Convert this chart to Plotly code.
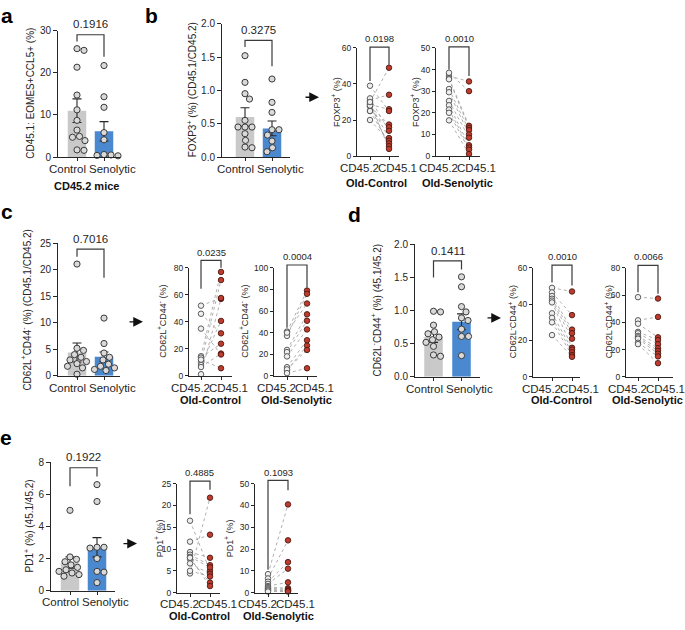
import numpy as np
import plotly.graph_objects as go

W, H = 685, 630
FONT = "Liberation Sans, Arial, Helvetica, sans-serif"
INK = "#262626"
GRAY_BAR = "#c9c9c9"
BLUE_BAR = "#4a88d0"
DOT_FILL = "#d9d9d9"
OPEN_FILL = "#efefef"
RED_FILL = "#bf3b2c"

# ---------------- data ----------------
bar_groups = ["Control", "Senolytic"]
pair_groups = ["CD45.2", "CD45.1"]

# panel a
a_control = [25.3, 25.7, 21.3, 14.7, 11.2, 8.7, 6.4, 4.9, 4.7, 3.9, 1.7, 1.6]
a_senolytic = [21.7, 14.3, 11.8, 5.8, 4.1, 0.6, 0.4, 0.3, 0.5]
a_mean = [11.0, 6.1]
a_sem = [2.8, 2.3]
a_p = "0.1916"

# panel b
b_control = [1.52, 1.12, 0.95, 0.87, 0.55, 0.45, 0.45, 0.45, 0.35, 0.25, 0.14, 0.15]
b_senolytic = [1.17, 0.82, 0.67, 0.41, 0.41, 0.33, 0.24, 0.14, 0.08]
b_mean = [0.60, 0.43]
b_sem = [0.14, 0.11]
b_p = "0.3275"
b_oc_cd452 = [30, 31, 28.5, 39, 27.5, 25, 32, 29, 20, 25, 28, 30]
b_oc_cd451 = [49, 34, 26, 25, 17.5, 16, 14, 10, 8.5, 7, 5.5, 4]
b_oc_p = "0.0198"
b_os_cd452 = [37, 38.5, 36, 35.5, 31, 29.5, 25.5, 23.5, 21.5, 20, 16.5]
b_os_cd451 = [34.5, 30, 14, 13, 12, 10, 8.5, 5, 4, 3, 1]
b_os_p = "0.0010"

# panel c
c_control = [21.1, 5.2, 4.8, 4.0, 3.5, 3.0, 2.7, 2.3, 1.8, 1.5, 0.3]
c_senolytic = [10.9, 6.1, 4.3, 3.5, 3.0, 2.2, 1.8, 1.5, 1.2, 1.0]
c_mean = [4.4, 3.6]
c_sem = [1.8, 0.9]
c_p = "0.7016"
c_oc_cd452 = [1.2, 14.5, 10, 52, 8, 46, 13.5, 6.5, 35, 12]
c_oc_cd451 = [57, 77, 71, 57.7, 40.7, 31.5, 23.8, 16.5, 15.8, 5.6]
c_oc_p = "0.0235"
c_os_cd452 = [41, 37, 40, 24, 22, 18, 8, 5, 6, 2.5]
c_os_cd451 = [79, 76, 67, 57, 51, 43, 33, 28, 24, 7]
c_os_p = "0.0004"

# panel d
d_control = [0.98, 0.99, 0.78, 0.68, 0.65, 0.60, 0.56, 0.52, 0.46, 0.31, 0.33]
d_senolytic = [1.51, 1.36, 1.06, 0.98, 0.89, 0.85, 0.72, 0.61, 0.61, 0.32]
d_mean = [0.60, 0.83]
d_sem = [0.08, 0.12]
d_p = "0.1411"
d_oc_cd452 = [49, 46.5, 44.5, 43, 42, 41, 35, 32.5, 30, 23]
d_oc_cd451 = [47, 34, 26, 24, 21, 16, 15, 13.5, 12, 11]
d_oc_p = "0.0010"
d_os_cd452 = [58.5, 41.5, 39, 33, 32, 30, 29, 28, 25, 24]
d_os_cd451 = [57.5, 44, 29, 27, 24, 21, 19, 17, 15, 10]
d_os_p = "0.0066"

# panel e
e_control = [5.0, 2.1, 1.95, 1.8, 1.6, 1.45, 1.3, 1.2, 1.1, 1.0, 0.9]
e_senolytic = [6.6, 5.55, 2.7, 2.65, 2.7, 2.0, 1.2, 1.15, 0.5]
e_mean = [1.75, 2.7]
e_sem = [0.35, 0.6]
e_p = "0.1922"
e_oc_cd452 = [4.4, 16.5, 11.7, 9.3, 8.7, 8.2, 7.7, 6.7, 5, 8]
e_oc_cd451 = [21.8, 5, 13.3, 8, 6.3, 5.8, 2.3, 4.3, 3.7, 1.5]
e_oc_p = "0.4885"
e_os_cd452 = [8.5, 6.5, 5, 4, 3, 2.5, 2, 1.5, 1, 0.5]
e_os_cd451 = [40.5, 24, 14, 11, 4.7, 2, 1.5, 1, 0.8, 0.5]
e_os_p = "0.1093"

# ---------------- layout specs (pixel geometry) ----------------
panels = [
    dict(kind="bar", data=(a_control, a_senolytic, a_mean, a_sem, a_p), L=58, R=120, c0=77, c1=104, top=25, bot=154,
         ymax=30, dt=10, fmt="", br=(29.0, 27.4, 23.8), title="CD45.1: EOMES+CCL5+ (%)", tx=31),
    dict(kind="bar", data=(b_control, b_senolytic, b_mean, b_sem, b_p), L=222, R=290, c0=245, c1=272, top=18, bot=154,
         ymax=2.0, dt=0.5, fmt=".1f", br=(1.75, 1.65, 1.36), title="FOXP3<sup>+</sup> (%) (CD45.1/CD45.2)", tx=192),
    dict(kind="pair", data=(b_oc_cd452, b_oc_cd451, b_oc_p), L=357, R=399, c0=370, c1=389, top=42.7, bot=153,
         ymax=60, dt=20, fmt="", br=(60.4, 41.6, 50.6), title="FOXP3<sup>+</sup> (%)", tx=337),
    dict(kind="pair", data=(b_os_cd452, b_os_cd451, b_os_p), L=436, R=480, c0=449, c1=469, top=42.7, bot=153,
         ymax=50, dt=10, fmt="", br=(50.5, 40, 37), title="FOXP3<sup>+</sup> (%)", tx=416),
    dict(kind="bar", data=(c_control, c_senolytic, c_mean, c_sem, c_p), L=58, R=120, c0=77, c1=104, top=242, bot=377,
         ymax=25, dt=5, fmt="", br=(23.9, 22.5, 18.5), title="CD62L<sup>+</sup>CD44<sup>-</sup> (%) (CD45.1/CD45.2)", tx=26),
    dict(kind="pair", data=(c_oc_cd452, c_oc_cd451, c_oc_p), L=189, R=232, c0=201, c1=221, top=267, bot=377,
         ymax=80, dt=20, fmt="", br=(85.6, 64.5, 80.2), title="CD62L<sup>+</sup>CD44<sup>-</sup> (%)", tx=163),
    dict(kind="pair", data=(c_os_cd452, c_os_cd451, c_os_p), L=274, R=317, c0=287, c1=307, top=267, bot=377,
         ymax=100, dt=20, fmt="", br=(102.7, 44.5, 81.8), title="CD62L<sup>+</sup>CD44<sup>-</sup> (%)", tx=245),
    dict(kind="bar", data=(d_control, d_senolytic, d_mean, d_sem, d_p), L=415, R=480, c0=433.5, c1=461.5, top=243, bot=378,
         ymax=2.0, dt=0.5, fmt=".1f", br=(1.75, 1.5, 1.62), title="CD62L<sup>-</sup>CD44<sup>+</sup> (%) (45.1/45.2)", tx=376),
    dict(kind="pair", data=(d_oc_cd452, d_oc_cd451, d_oc_p), L=533, R=580, c0=552, c1=572, top=267, bot=378,
         ymax=60, dt=20, fmt="", br=(61.5, 52, 50.3), title="CD62L<sup>-</sup>CD44<sup>+</sup> (%)", tx=514),
    dict(kind="pair", data=(d_os_cd452, d_os_cd451, d_os_p), L=626, R=673, c0=638, c1=658, top=267, bot=378,
         ymax=80, dt=20, fmt="", br=(81.9, 62.2, 61), title="CD62L<sup>-</sup>CD44<sup>+</sup> (%)", tx=610),
    dict(kind="bar", data=(e_control, e_senolytic, e_mean, e_sem, e_p), L=51, R=115, c0=70, c1=97, top=465, bot=596,
         ymax=8, dt=2, fmt="", br=(7.65, 6.5, 7.1), title="PD1<sup>+</sup> (%) (45.1/45.2)", tx=29),
    dict(kind="pair", data=(e_oc_cd452, e_oc_cd451, e_oc_p), L=177, R=220, c0=190, c1=210, top=487, bot=598,
         ymax=25, dt=5, fmt="", br=(25.6, 18, 23.6), title="PD1<sup>+</sup> (%)", tx=160),
    dict(kind="pair", data=(e_os_cd452, e_os_cd451, e_os_p), L=255, R=298, c0=268, c1=288, top=487, bot=598,
         ymax=50, dt=10, fmt="", br=(51.5, 10.5, 47), title="PD1<sup>+</sup> (%)", tx=230),
]

group_labels = [("CD45.2 mice", 86, 184), ("Old-Control", 376, 180), ("Old-Senolytic", 457, 180),
                ("Old-Control", 210, 402), ("Old-Senolytic", 296, 402),
                ("Old-Control", 561, 402), ("Old-Senolytic", 647, 402),
                ("Old-Control", 199, 622), ("Old-Senolytic", 278, 622)]
panel_letters = [("a", 7, 10), ("b", 151, 10), ("c", 7, 210), ("d", 354, 213), ("e", 6, 440)]
arrows = [(319, 93), (143, 322), (501, 318), (137, 548)]


def swarm(vals, ppy, ppx, d=6.8):
    vals = np.asarray(vals, float)
    order = np.argsort(-vals, kind="stable")
    cands = sorted(np.arange(-16, 16.01, 0.5), key=lambda v: (abs(v), v < 0))
    placed, offs = [], np.zeros(len(vals))
    for i in order:
        yp = vals[i] * ppy
        chosen = 0.0
        for c in cands:
            if all((c - px) ** 2 + (yp - py) ** 2 >= d * d for px, py in placed):
                chosen = c
                break
        placed.append((chosen, yp))
        offs[i] = chosen / ppx
    return offs


fig = go.Figure()
layout = dict(width=W, height=H, margin=dict(l=0, r=0, t=0, b=0), paper_bgcolor="white",
              plot_bgcolor="white", showlegend=False, font=dict(family=FONT, color=INK))
annotations, shapes = [], []


def P(xpx, ypx):
    return xpx / W, 1 - ypx / H


for i, sp in enumerate(panels, start=1):
    L, R, c0, c1, top, bot, ymax = sp["L"], sp["R"], sp["c0"], sp["c1"], sp["top"], sp["bot"], sp["ymax"]
    ppx = c1 - c0
    ppy = (bot - top) / ymax
    xk = "xaxis" if i == 1 else f"xaxis{i}"
    yk = "yaxis" if i == 1 else f"yaxis{i}"
    xid = "x" if i == 1 else f"x{i}"
    yid = "y" if i == 1 else f"y{i}"
    isbar = sp["kind"] == "bar"
    tvals = list(np.round(np.arange(0, ymax + 1e-9, sp["dt"]), 3))
    layout[xk] = dict(domain=[L / W, R / W], range=[(L - c0) / ppx, (R - c0) / ppx], anchor=yid,
                      showline=True, linecolor=INK, linewidth=1, ticks="outside", ticklen=3, tickwidth=1,
                      tickcolor=INK, tickvals=[0, 1], showticklabels=False, showgrid=False, zeroline=False,
                      fixedrange=True)
    layout[yk] = dict(domain=[1 - bot / H, 1 - top / H], range=[0, ymax], anchor=xid,
                      showline=True, linecolor=INK, linewidth=1, ticks="outside", ticklen=4 if isbar else 3,
                      tickwidth=1, tickcolor=INK, tickvals=tvals, tickformat=sp["fmt"], showgrid=False,
                      zeroline=False, tickfont=dict(size=10 if isbar else 8.5, color=INK, family=FONT),
                      fixedrange=True)

    def ypx(v):
        return bot - v * ppy

    def xpx(v):
        return c0 + v * ppx

    if isbar:
        ctrl, seno, mean, sem, p = sp["data"]
        fig.add_trace(go.Bar(x=[0, 1], y=mean, width=18.5 / ppx, xaxis=xid, yaxis=yid,
                             marker=dict(color=[GRAY_BAR, BLUE_BAR], line=dict(width=0)),
                             error_y=dict(type="data", array=sem, visible=True, color=INK, thickness=1.1, width=4.5),
                             hoverinfo="skip"))
        for g, vals in enumerate([ctrl, seno]):
            offs = swarm(vals, ppy, ppx)
            fig.add_trace(go.Scatter(x=g + offs, y=vals, mode="markers", xaxis=xid, yaxis=yid, cliponaxis=False,
                                     marker=dict(size=6.2, color=DOT_FILL, line=dict(color="#3a3a3a", width=1)),
                                     hoverinfo="skip"))
        labels = bar_groups
        split = (c0 + c1) / 2 - 3.5
        gap = 0.5
        pfs, tfs, poff = 11.5, 10, 10.5
    else:
        v2, v1, p = sp["data"]
        lx, ly = [], []
        for a, b in zip(v2, v1):
            lx += [0, 1, None]
            ly += [a, b, None]
        fig.add_trace(go.Scatter(x=lx, y=ly, mode="lines", xaxis=xid, yaxis=yid,
                                 line=dict(color="#9a9a9a", width=0.8, dash="dot"), hoverinfo="skip"))
        fig.add_trace(go.Scatter(x=[0] * len(v2), y=v2, mode="markers", xaxis=xid, yaxis=yid, cliponaxis=False,
                                 marker=dict(size=5.5, color=OPEN_FILL, line=dict(color="#4d4d4d", width=0.9)),
                                 hoverinfo="skip"))
        fig.add_trace(go.Scatter(x=[1] * len(v1), y=v1, mode="markers", xaxis=xid, yaxis=yid, cliponaxis=False,
                                 marker=dict(size=5.5, color=RED_FILL, line=dict(color="#4a1a14", width=0.9)),
                                 hoverinfo="skip"))
        labels = pair_groups
        split = (c0 + c1) / 2 - 1.5
        gap = -1.5
        pfs, tfs, poff = 9.5, 9, 8.5

    # significance bracket
    btop, bl, brt = sp["br"]
    pts = [P(xpx(0), ypx(bl)), P(xpx(0), ypx(btop)), P(xpx(1), ypx(btop)), P(xpx(1), ypx(brt))]
    path = "M " + " L ".join(f"{x:.5f},{y:.5f}" for x, y in pts)
    shapes.append(dict(type="path", path=path, xref="paper", yref="paper", line=dict(color="#3a3a3a", width=1.2)))
    px_, py_ = P(xpx(0.5), ypx(btop) - poff)
    annotations.append(dict(x=px_, y=py_, xref="paper", yref="paper", text=p, showarrow=False,
                            xanchor="center", yanchor="middle", font=dict(size=pfs, color=INK, family=FONT)))
    # category labels
    ylab = 1 - (bot + 12) / H
    annotations.append(dict(x=(split - gap) / W, y=ylab, xref="paper", yref="paper", text=labels[0],
                            showarrow=False, xanchor="right", yanchor="middle", borderpad=0,
                            font=dict(size=11.5, color=INK, family=FONT)))
    annotations.append(dict(x=(split + gap) / W, y=ylab, xref="paper", yref="paper", text=labels[1],
                            showarrow=False, xanchor="left", yanchor="middle", borderpad=0,
                            font=dict(size=11.5, color=INK, family=FONT)))
    # y title
    tx, ty = P(sp["tx"] - (0 if isbar else 1), (top + bot) / 2)
    annotations.append(dict(x=tx, y=ty, xref="paper", yref="paper", text=sp["title"], showarrow=False,
                            textangle=-90, xanchor="center", yanchor="middle",
                            font=dict(size=tfs, color=INK, family=FONT)))

for txt, x, y in group_labels:
    gx, gy = P(x, y)
    annotations.append(dict(x=gx, y=gy, xref="paper", yref="paper", text=f"<b>{txt}</b>", showarrow=False,
                            xanchor="center", yanchor="middle", font=dict(size=11, color="#111", family=FONT)))
for txt, x, y in panel_letters:
    gx, gy = P(x, y)
    annotations.append(dict(x=gx, y=gy, xref="paper", yref="paper", text=f"<b>{txt}</b>", showarrow=False,
                            xanchor="center", yanchor="middle", font=dict(size=21, color="#000", family=FONT)))
for x, y in arrows:
    gx, gy = P(x, y)
    annotations.append(dict(x=gx, y=gy, xref="paper", yref="paper", text="", showarrow=True, ax=-15, ay=0,
                            axref="pixel", ayref="pixel", arrowhead=2, arrowsize=1.5, arrowwidth=1.3,
                            arrowcolor="#111", standoff=0))

layout["annotations"] = annotations
layout["shapes"] = shapes
fig.update_layout(**layout)
fig.write_html("out.html")
